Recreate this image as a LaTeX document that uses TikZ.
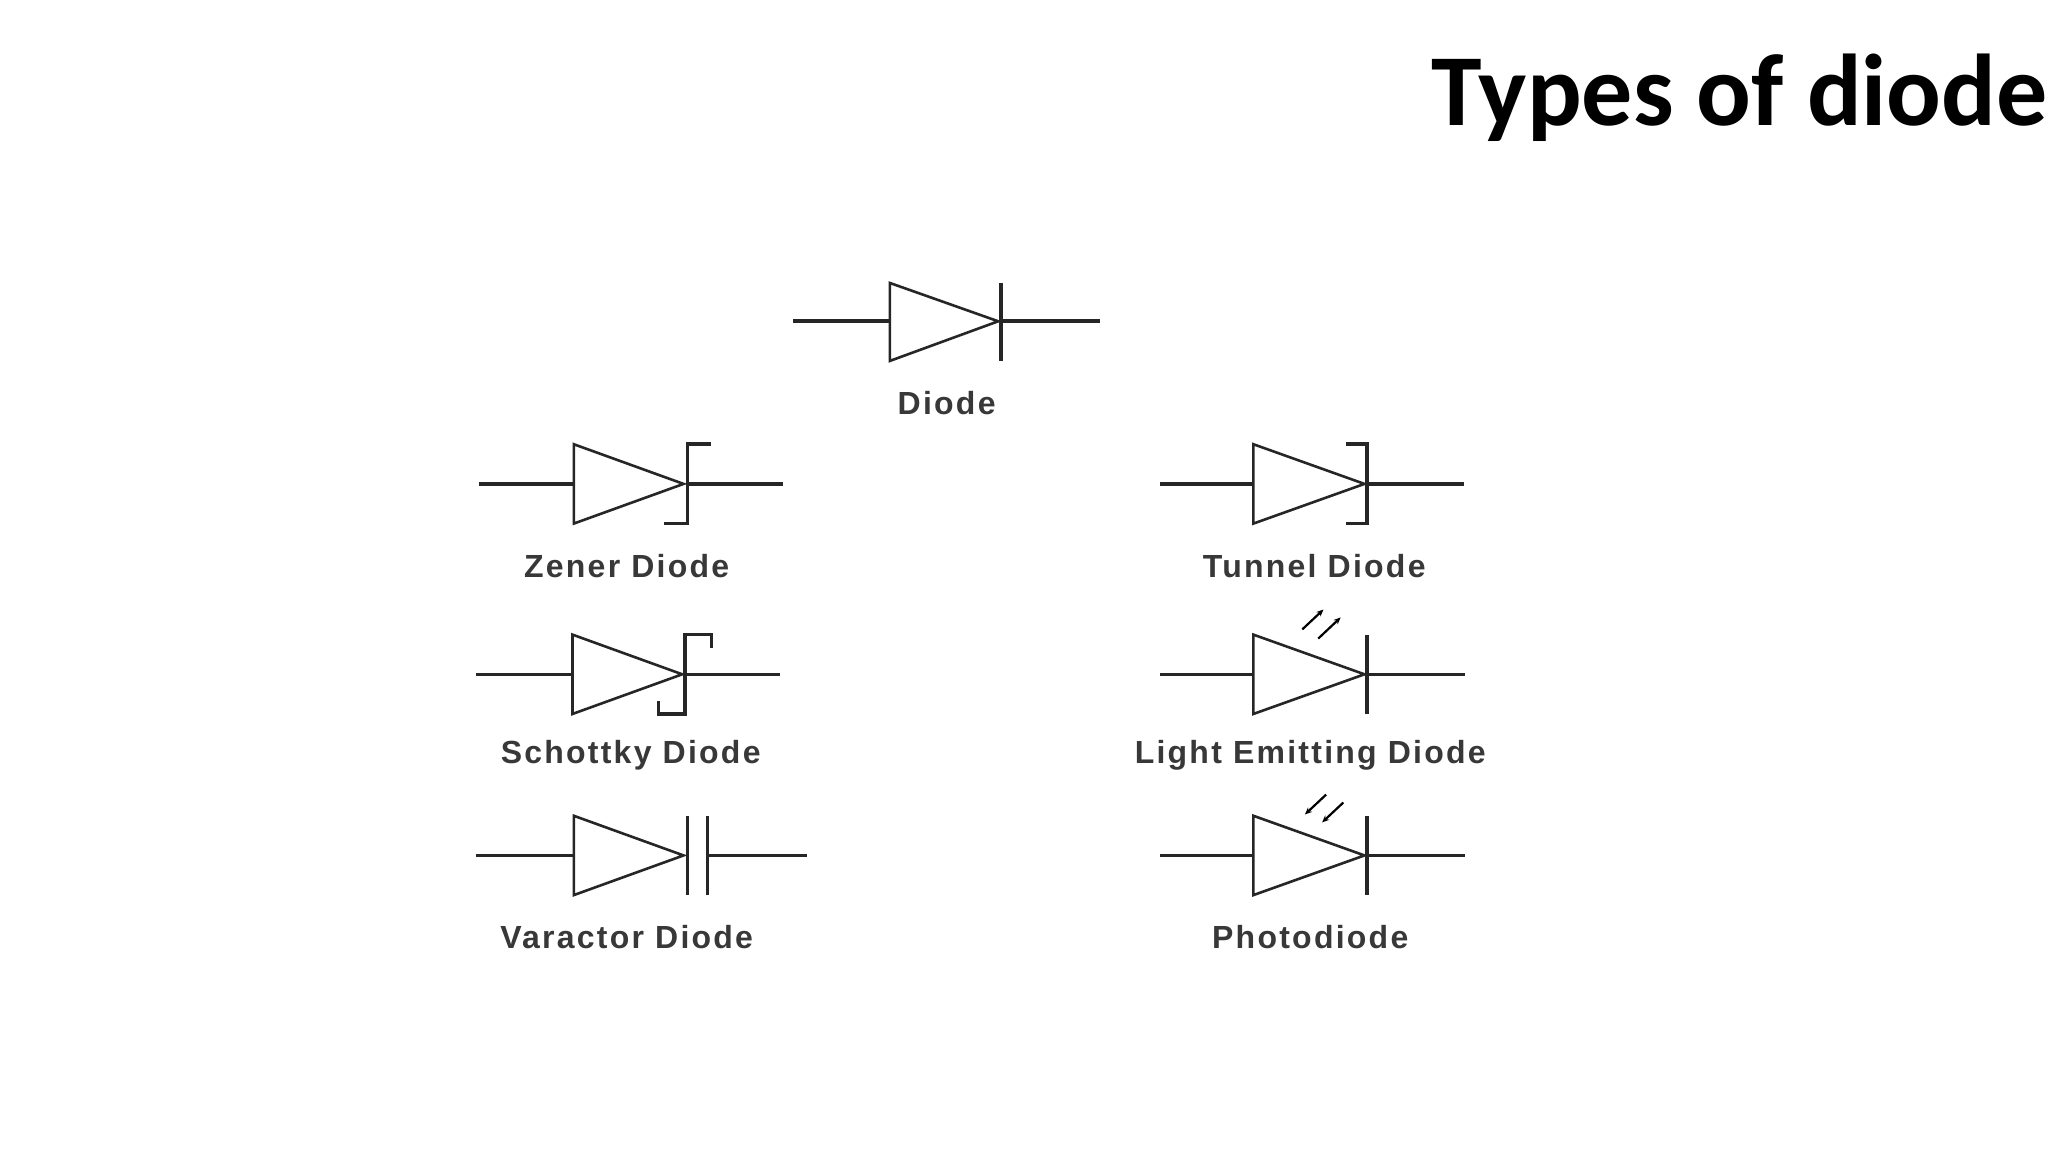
\documentclass[tikz,border=0pt]{standalone}
\usepackage{fontspec}
\usetikzlibrary{arrows.meta}
\setmainfont{Carlito}
\newfontfamily\lblfont[LetterSpace=7]{Liberation Sans}
\begin{document}
\begin{tikzpicture}[x=1.3221pt,y=-1.3221pt,
  wire/.style={line width=3.6pt,color=black!85},
  tri/.style={line width=2.6pt,color=black!85,line join=miter},
  lbl/.style={font=\lblfont\bfseries\fontsize{32}{32}\selectfont,text=black!78,inner sep=0pt},
  arr/.style={line width=2.2pt,-{Stealth[length=7pt,width=6pt]}}]
\useasboundingbox (0,0) rectangle (1549,871.3);
\node[anchor=east,inner sep=0pt,font=\bfseries\fontsize{102}{102}\selectfont] (title) at (1549,74) {Types of diode};
% Diode
\draw[wire] (600,243) -- (673,243) (757,243) -- (832,243);
\draw[wire] (757,214) -- (757,273);
\draw[tri] (673,214) -- (755,243) -- (673,273) -- cycle;
\node[lbl] (l1) at (716,305) {Diode};
% Zener
\draw[wire] (362,366) -- (434,366) (520,366) -- (592,366);
\draw[wire] (538,336) -- (520,336) -- (520,396) -- (502,396);
\draw[tri] (434,336) -- (517,366) -- (434,396) -- cycle;
\node[lbl] (l2) at (474,428) {Zener Diode};
% Tunnel
\draw[wire] (877,366) -- (948,366) (1034,366) -- (1107,366);
\draw[wire] (1018,336) -- (1034,336) -- (1034,396) -- (1018,396);
\draw[tri] (948,336) -- (1032,366) -- (948,396) -- cycle;
\node[lbl] (l3) at (994,428) {Tunnel Diode};
% Schottky
\draw[wire] (360,510) -- (433,510) (518,510) -- (590,510);
\draw[wire] (538,490) -- (538,480) -- (518,480) -- (518,540) -- (498,540) -- (498,530);
\draw[tri] (433,480) -- (516,510) -- (433,540) -- cycle;
\node[lbl] (l4) at (477,571) {Schottky Diode};
% LED
\draw[wire] (877,510) -- (948,510) (1034,510) -- (1108,510);
\draw[wire] (1034,480) -- (1034,540);
\draw[tri] (948,480) -- (1032,510) -- (948,540) -- cycle;
\draw[arr] (985,476) -- (1001,461);
\draw[arr] (997,483) -- (1014,467);
\node[lbl] (l5) at (991,571) {Light Emitting Diode};
% Varactor
\draw[wire] (360,647) -- (434,647) (535,647) -- (610,647);
\draw[wire] (520,617) -- (520,677) (535,617) -- (535,677);
\draw[tri] (434,617) -- (517,647) -- (434,677) -- cycle;
\node[lbl] (l6) at (474,709) {Varactor Diode};
% Photodiode
\draw[wire] (877,647) -- (948,647) (1034,647) -- (1108,647);
\draw[wire] (1034,617) -- (1034,677);
\draw[tri] (948,617) -- (1032,647) -- (948,677) -- cycle;
\draw[arr] (1003,601) -- (987,616);
\draw[arr] (1016,607) -- (1000,622);
\node[lbl] (l7) at (991,709) {Photodiode};
\end{tikzpicture}
\end{document}
